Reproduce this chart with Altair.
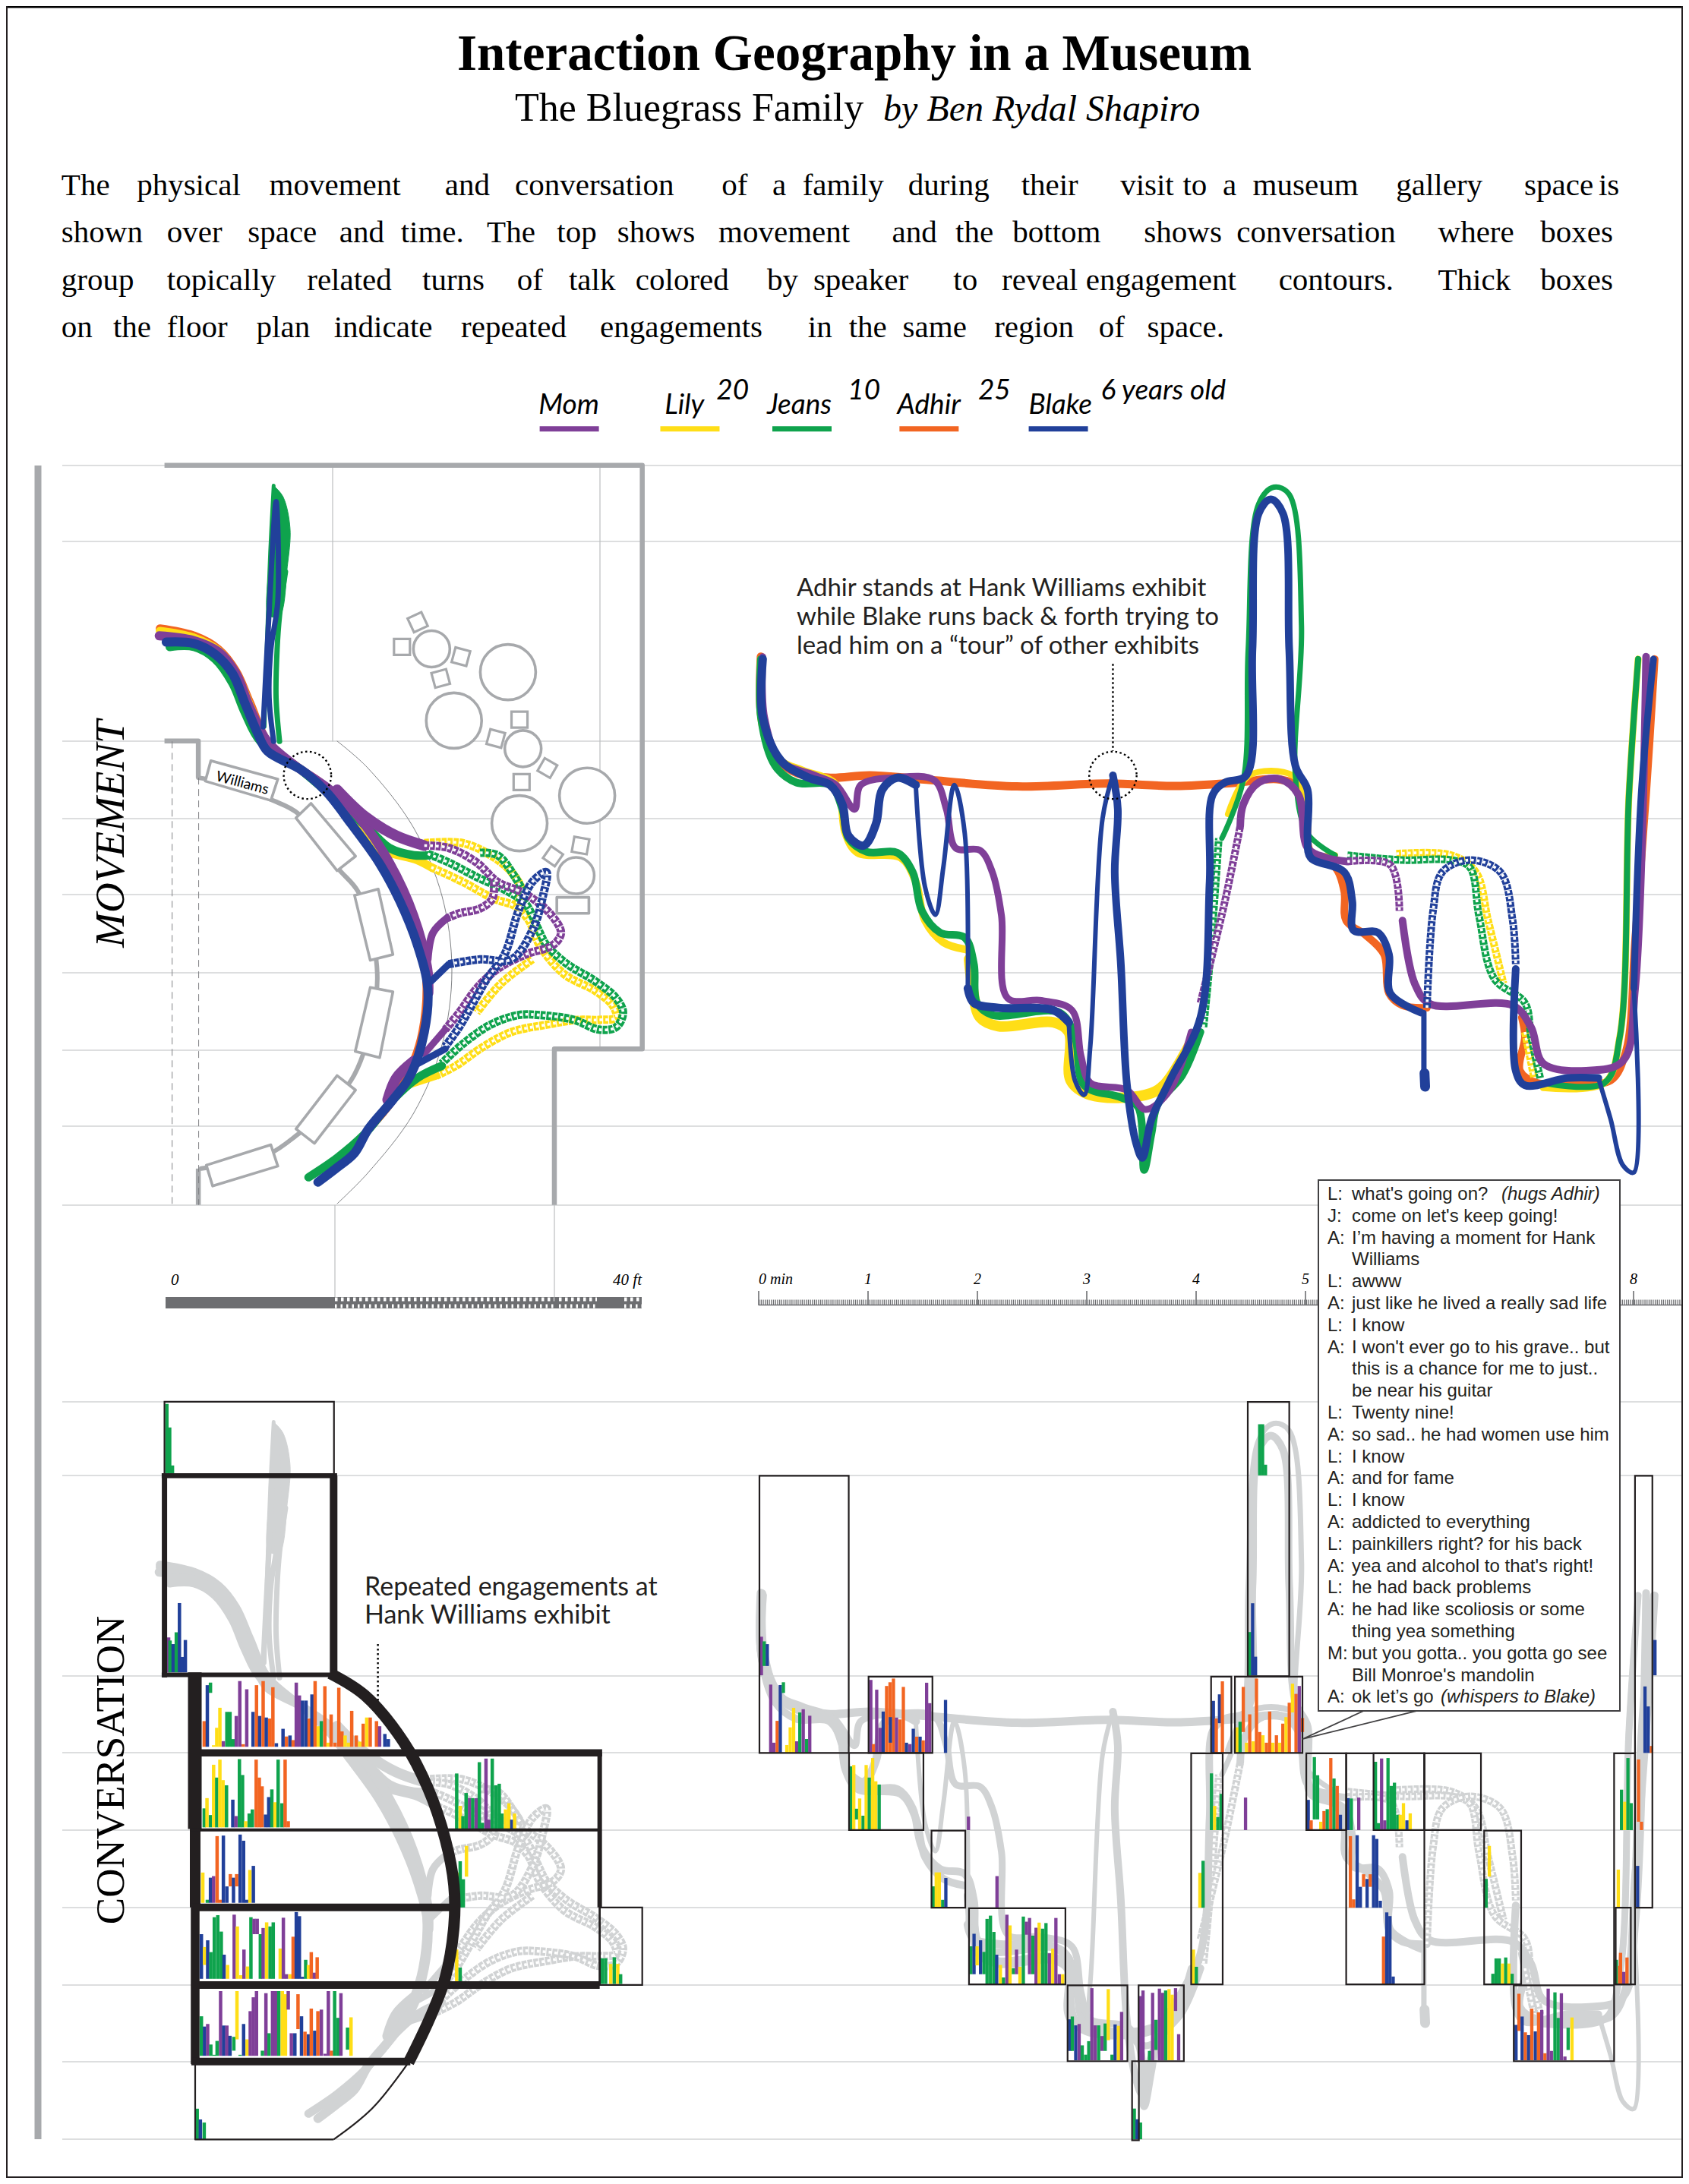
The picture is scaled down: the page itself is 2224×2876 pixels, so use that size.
import altair as alt
import pandas as pd

W, H = 2208, 2860
SX = alt.Scale(domain=[8, 2216], range=[0, W], nice=False, zero=False)
SY = alt.Scale(domain=[8, 2868], range=[0, H], nice=False, zero=False)
X = alt.X('x:Q', scale=SX, axis=None)
Y = alt.Y('y:Q', scale=SY, axis=None)

COL = {'P': '#7f3f98', 'Y': '#ffde17', 'G': '#0fa34d', 'O': '#f26522', 'B': '#21409a'}
GREY = '#d1d3d4'; WALL = '#a7a9ac'; GRID = '#bcbec0'; INK = '#231f20'

# crop coordinate systems the values were read in
def z1(p): return (1.4184 * p[0], .3954 * p[1])
def z2(p): return (150 + .4592 * p[0], 600 + .6378 * p[1])
def z3(p): return (960 + .8061 * p[0], 600 + .6378 * p[1])
def z4(p): return (150 + .4592 * p[0], 1800 + .676 * p[1])
def z5(p): return (960 + .4082 * p[0], 1900 + .6122 * p[1])
def z6(p): return (1560 + .4235 * p[0], 1900 + .6122 * p[1])
def z7(p): return (1700 + .3342 * p[0], 1540 + .4719 * p[1])

layers = []

def line(pts, color, width, dash=None, interp='linear', fill=None, cap='round', dy=0):
    df = pd.DataFrame([{'x': a, 'y': b + dy, 'i': i} for i, (a, b) in enumerate(pts)])
    kw = dict(color=color, strokeWidth=width, interpolate=interp, strokeCap=cap, strokeJoin='round')
    if dash: kw['strokeDash'] = dash
    if fill: kw['fill'] = fill
    layers.append(alt.Chart(df).mark_line(**kw).encode(x=X, y=Y, order=alt.Order('i:Q')))

def text(x, y, s, size, font='Liberation Serif', style='normal', weight='normal', align='left', angle=0, color='#000000'):
    df = pd.DataFrame([{'x': x, 'y': y, 't': s}])
    kw = dict(font=font, fontSize=size, fontStyle=style, fontWeight=weight, align=align,
              baseline='alphabetic', color=color)
    if angle: kw['angle'] = angle
    layers.append(alt.Chart(df).mark_text(**kw).encode(x=X, y=Y, text='t:N'))

# ---------- text content ----------
TITLE = 'Interaction Geography in a Museum'
SUB_A = 'The Bluegrass Family'
SUB_B = 'by Ben Rydal Shapiro'
BODY = [
 (650, [('The',57),('physical',127),('movement',250),('and',413),('conversation',478),('of',670),('a',717),('family',745),('during',843),('their',948),('visit',1040),('to',1098),('a',1135),('museum',1163),('gallery',1296),('space',1415),('is',1484)]),
 (808, [('shown',57),('over',155),('space',230),('and',315),('time.',372),('The',452),('top',517),('shows',573),('movement',667),('and',828),('the',887),('bottom',940),('shows',1062),('conversation',1148),('where',1335),('boxes',1430)]),
 (965, [('group',57),('topically',155),('related',285),('turns',392),('of',480),('talk',528),('colored',590),('by',712),('speaker',755),('to',885),('reveal',930),('engagement',1008),('contours.',1187),('Thick',1335),('boxes',1430)]),
 (1123,[('on',57),('the',105),('floor',155),('plan',238),('indicate',310),('repeated',428),('engagements',557),('in',750),('the',788),('same',838),('region',923),('of',1020),('space.',1065)]),
]
LEGEND = [('Mom',500,'P',501),('Lily',617,'Y',613),('Jeans',712,'G',717),('Adhir',833,'O',835),('Blake',955,'B',955)]
SUPER = [('20',665),('10',787),('25',908),('6 years old',1022)]
DIALOG = [
 ('L:', "what's going on?"), ('J:', "come on let's keep going!"), ('A:', 'I’m having a moment for Hank'),
 ('', 'Williams'), ('L:', 'awww'), ('A:', 'just like he lived a really sad life'), ('L:', 'I know'),
 ('A:', "I won't ever go to his grave.. but"), ('', 'this is a chance for me to just..'), ('', 'be near his guitar'),
 ('L:', 'Twenty nine!'), ('A:', 'so sad.. he had women use him'), ('L:', 'I know'), ('A:', 'and for fame'),
 ('L:', 'I know'), ('A:', 'addicted to everything'), ('L:', 'painkillers right? for his back'),
 ('A:', "yea and alcohol to that's right!"), ('L:', 'he had back problems'), ('A:', 'he had like scoliosis or some'),
 ('', 'thing yea something'), ('M:', 'but you gotta.. you gotta go see'), ('', "Bill Monroe's mandolin"), ('A:', 'ok let’s go'),
]

# ---------- grid ----------
GRID_Y = [613, 713, 976, 1078, 1178, 1281, 1383, 1483, 1587, 1846, 1943, 2207, 2308, 2410, 2512, 2614, 2715, 2817]
for gy in GRID_Y:
    line([(82, gy), (2216, gy)], GRID, 1.2, cap='butt')
line([(50, 613), (50, 2817)], WALL, 9, cap='butt')
line([(438, 613), (438, 976)], GRID, 1.2)
line([(790, 613), (790, 1383)], GRID, 1.2)
line([(441, 1587), (441, 1708)], GRID, 1.2)
line([(730, 1587), (730, 1708)], GRID, 1.2)

# ---------- floor plan ----------
ARC_PX = [(444,976),(484,1011),(544,1089),(582,1180),(595,1278),(582,1376),(544,1467),(484,1545),(444,1585)]
line(ARC_PX, '#808285', 1, interp='catmull-rom')
CURVE = [(242,665),(350,680),(450,710),(530,740),(640,850),(700,900),(740,990),(755,1067),(750,1130),(715,1235),(680,1290),(600,1360),(530,1400),(450,1440),(350,1460),(250,1472)]
line([z2(p) for p in CURVE], WALL, 6, interp='catmull-rom')
WALLS = [
 [(145,20),(1515,20),(1515,1225),(1263,1225),(1263,1547)],
 [(145,589),(242,589),(242,665)],
 [(242,1472),(242,1547)],
]
for w in WALLS:
    line([z2(p) for p in w], WALL, 6.5, cap='butt')
for dx in (167, 243):
    line([z2((dx, 590 if dx == 167 else 665)), z2((dx, 1547))], '#808285', 1, dash=[9, 6], cap='butt')
EXHIBITS = [
 [(278,630),(470,668),(450,712),(262,672)],
 [(565,718),(693,827),(640,857),(522,748)],
 [(690,908),(758,895),(800,1030),(735,1042)],
 [(735,1098),(800,1107),(762,1243),(692,1230)],
 [(640,1280),(693,1310),(575,1420),(522,1390)],
 [(265,1465),(450,1423),(470,1467),(283,1508)],
 [(1270,912),(1362,912),(1362,945),(1270,945)],
]
for e in EXHIBITS:
    line([z2(p) for p in e + [e[0]]], WALL, 3.6, fill='#ffffff')
a, b = z2((365, 685))
text(a, b, 'Williams', 19, font='Lato', align='center', angle=15)

TABLES = [(911,399,48),(1130,447,73),(975,547,73),(1173,605,48),(1357,702,73),(1163,759,73),(1325,867,48)]
STOOLS = [(871,344,-25,20),(826,395,0,21),(995,415,15,20),(937,460,-15,20),(1163,545,0,21),(1095,584,15,20),(1243,645,30,19),(1169,674,0,21),(1338,805,10,20),(1259,827,35,19)]
df = pd.DataFrame([{'x': z2((p[0], p[1]))[0], 'y': z2((p[0], p[1]))[1], 's': p[2] ** 2} for p in TABLES])
layers.append(alt.Chart(df).mark_point(shape='circle', fill='#ffffff', fillOpacity=1, stroke=WALL, strokeWidth=3.6, opacity=1).encode(x=X, y=Y, size=alt.Size('s:Q', scale=None)))
df = pd.DataFrame([{'x': z2((p[0], p[1]))[0], 'y': z2((p[0], p[1]))[1], 'a': (p[2] + 360) % 360, 's': p[3] ** 2} for p in STOOLS])
layers.append(alt.Chart(df).mark_point(shape='square', fill='#ffffff', fillOpacity=1, stroke=WALL, strokeWidth=3.2, opacity=1).encode(x=X, y=Y, size=alt.Size('s:Q', scale=None), angle=alt.Angle('a:Q', scale=None)))

# ---------- movement paths: (speaker, width, solid/rings, points) ----------
FLOOR = [
 ('O', 11, 's', [(132,357),(230,372),(300,400),(350,445),(390,510),(440,590),(520,640),(600,680),(680,745),(770,830),(840,930),(885,1020),(897,1100),(885,1190),(860,1250),(800,1330),(730,1390)]),
 ('Y', 11, 's', [(132,362),(230,376),(300,403),(350,450),(395,525),(440,600),(540,650),(640,715),(760,810),(870,835),(910,850)]),
 ('Y', 8, 'r', [(910,850),(1000,880),(1090,915),(1150,930),(1190,960),(1220,1010),(1290,1070),(1380,1105),(1430,1135),(1440,1160),(1390,1165),(1330,1165),(1240,1175),(1140,1190),(1060,1220),(980,1260),(925,1280)]),
 ('Y', 8, 'r', [(890,800),(1000,800),(1080,825),(1140,860),(1170,900),(1150,930)]),
 ('Y', 8, 'r', [(1200,1040),(1110,1090),(1040,1150)]),
 ('Y', 10, 's', [(925,1280),(840,1300)]),
 ('G', 11, 's', [(160,395),(230,395),(290,420),(340,470),(375,530),(420,590),(520,640),(620,700),(730,770),(790,810),(860,825),(905,825)]),
 ('G', 5, 's', [(458,62),(448,200),(438,400),(432,560)]),
 ('G', 7, 's', [(492,240),(475,330),(468,400),(465,500),(475,590)]),
 ('G', 8, 'r', [(900,822),(960,840),(1040,870),(1130,900),(1180,925),(1215,975),(1240,1010),(1300,1050),(1380,1085),(1440,1120),(1460,1150),(1440,1180),(1390,1185),(1320,1165),(1220,1155),(1160,1155),(1080,1175),(1000,1215),(940,1255)]),
 ('G', 8, 'r', [(1050,820),(1100,825),(1150,870),(1180,910)]),
 ('G', 11, 's', [(940,1260),(870,1285),(800,1330),(720,1400),(640,1450),(558,1490)]),
 ('P', 12, 's', [(130,372),(230,382),(300,405),(350,450),(390,520),(440,590),(520,640),(620,690),(700,745),(790,840),(860,950),(900,1060),(903,1110)]),
 ('P', 14, 's', [(640,690),(720,745),(810,785),(890,805)]),
 ('P', 8, 'r', [(890,805),(960,810),(1040,840),(1100,880),(1180,905),(1250,945),(1282,985),(1260,1010),(1180,1030),(1100,1060),(1040,1100),(990,1150),(950,1185)]),
 ('P', 8, 'r', [(1090,880),(1085,915),(1050,935),(990,945),(955,955)]),
 ('P', 10, 's', [(955,955),(915,985),(900,1040)]),
 ('P', 9, 's', [(950,1185),(890,1235)]),
 ('P', 14, 's', [(860,1250),(810,1285),(785,1330)]),
 ('B', 8, 'r', [(960,1050),(1050,1040),(1140,1040),(1200,980),(1230,910),(1240,860),(1200,880),(1160,940),(1120,1030),(1070,1080),(1030,1130),(990,1180),(950,1220)]),
 ('B', 9, 's', [(910,1085),(960,1050)]),
 ('B', 9, 's', [(950,1225),(860,1260)]),
 ('B', 7, 's', [(428,560),(440,390),(465,95),(470,300),(450,400),(445,500),(458,590)]),
 ('B', 12, 's', [(150,385),(230,388),(290,410),(340,450),(375,510),(410,570),(440,610),(540,650),(610,695),(680,760),(760,840),(820,920),(870,1010),(900,1100),(890,1190),(850,1280),(800,1330),(730,1390),(690,1440),(640,1470),(585,1500)]),
]
GREEN_SPUR = [(458,62),(485,85),(505,150),(497,230),(475,330),(445,330),(448,200)]

TIME = [
 ('O', 11, 's', [(52,415),(53,540),(75,620),(110,655),(165,665),(230,660),(330,670),(470,683),(620,677),(730,682),(830,675),(895,668),(930,680)]),
 ('O', 10, 's', [(945,760),(950,820),(990,850),(1005,900),(1008,960),(1040,990),(1070,1030),(1078,1110),(1100,1135),(1140,1140)]),
 ('O', 10, 's', [(1295,1160),(1300,1200),(1292,1270),(1320,1295),(1380,1295),(1440,1290),(1465,1230),(1480,1000),(1498,700),(1512,420)]),
 ('Y', 10, 's', [(52,420),(55,560),(85,630),(120,650),(175,680),(190,780),(210,820),(280,830),(305,880),(320,960),(350,1005),(388,1020)]),
 ('Y', 14, 's', [(392,1040),(398,1100),(410,1160),(440,1178),(530,1170),(555,1190),(558,1290),(590,1320),(680,1320),(710,1300),(755,1210)]),
 ('Y', 8, 's', [(815,740),(850,660),(920,660),(945,720),(950,820),(990,825)]),
 ('Y', 7, 'r', [(1090,822),(1180,825),(1220,860),(1240,960),(1265,1090)]),
 ('Y', 7, 'r', [(1300,1190),(1315,1285)]),
 ('Y', 9, 's', [(1330,1305),(1430,1295),(1455,1200),(1470,700),(1485,420)]),
 ('G', 10, 's', [(52,420),(52,540),(75,640),(110,675),(165,680),(185,730),(195,790),(225,818),(275,820),(300,860),(315,940),(345,985),(385,995),(400,1050),(405,1130),(430,1155),(540,1150),(565,1200),(580,1300),(640,1325),(668,1345),(678,1475),(690,1400),(700,1340),(740,1280),(770,1190)]),
 ('G', 7, 'r', [(775,1180),(785,1050),(800,790)]),
 ('G', 7, 's', [(805,790),(840,670),(848,400),(865,100),(890,65),(915,80),(935,350),(925,660),(945,780),(990,825)]),
 ('G', 7, 'r', [(1010,825),(1100,835),(1180,835),(1210,850),(1225,950),(1250,1080),(1300,1130),(1310,1200),(1325,1285)]),
 ('G', 8, 's', [(1330,1295),(1430,1295),(1455,1200),(1470,700),(1485,420)]),
 ('P', 9, 's', [(55,415),(58,540),(85,630),(140,660),(175,680),(205,730),(215,680),(270,665),(335,670),(355,730),(370,810),(410,815),(430,860),(445,950),(455,1120),(510,1125),(560,1145),(575,1240),(590,1295),(650,1310),(680,1350),(720,1310),(755,1190)]),
 ('P', 7, 'r', [(770,1130),(810,920),(835,765)]),
 ('P', 10, 's', [(835,765),(840,720),(865,675),(900,668),(930,700),(945,810),(975,830),(1010,838)]),
 ('P', 7, 'r', [(1010,838),(1080,845),(1095,940)]),
 ('P', 10, 's', [(1100,960),(1120,1090),(1145,1132),(1280,1135),(1310,1180),(1330,1255),(1400,1270),(1460,1250),(1480,1100),(1498,415)]),
 ('B', 7, 'r', [(1140,1140),(1150,940),(1165,860),(1210,835),(1260,860),(1280,960),(1285,1050)]),
 ('B', 11, 's', [(55,420),(55,540),(85,630),(130,665),(165,680),(185,720),(195,785),(220,805),(240,760),(250,690),(275,665),(305,680)]),
 ('B', 6, 's', [(305,680),(320,890),(337,948),(350,850),(368,680),(385,780),(390,1100)]),
 ('B', 11, 's', [(390,1100),(400,1130),(440,1140),(530,1145),(555,1170)]),
 ('B', 6, 's', [(555,1170),(565,1290),(580,1320),(590,1220),(610,750),(627,660)]),
 ('B', 10, 's', [(627,660),(635,730),(630,860),(640,1050),(650,1300),(665,1420),(675,1450),(690,1370),(720,1290),(770,1160),(785,880),(790,700),(810,675),(845,660),(855,400),(865,120),(885,90),(905,120),(915,400),(925,640),(945,690),(945,790),(950,830),(1005,860),(1018,920),(1020,980),(1060,985),(1078,1030),(1080,1110),(1130,1150)]),
 ('B', 7, 's', [(1135,1150),(1135,1270)]),
 ('B', 13, 's', [(1136,1275),(1137,1303)]),
 ('B', 10, 's', [(1285,1060),(1285,1270),(1300,1300),(1370,1285),(1420,1285)]),
 ('B', 6, 's', [(1420,1285),(1440,1370),(1460,1465),(1478,1480),(1478,1100)]),
 ('B', 9, 's', [(1478,1100),(1490,700),(1510,420)]),
]

def draw_paths(shift, mono=None):
    line([z2(p) for p in GREEN_SPUR + [GREEN_SPUR[0]]], mono or COL['G'], 1, interp='catmull-rom', fill=mono or COL['G'], dy=shift)
    for group, conv in ((FLOOR, z2), (TIME, z3)):
        for sp, w, kind, pts in group:
            c = mono or COL[sp]
            P = [conv(p) for p in pts]
            if kind == 's':
                line(P, c, w, interp='catmull-rom', dy=shift)
            else:
                line(P, c, w + 3, dash=[6.5, 1.2], interp='catmull-rom', cap='butt', dy=shift)
                line(P, '#ffffff', 3.6, dash=[3.6, 4.1], interp='catmull-rom', cap='butt', dy=shift)

draw_paths(0)
draw_paths(1233, GREY)

# dotted circles + leaders
CIRC = [z2((555, 660)), z3((627, 660))]
df = pd.DataFrame([{'x': a, 'y': b} for a, b in CIRC])
layers.append(alt.Chart(df).mark_point(shape='circle', size=3900, stroke='#000000', strokeWidth=2.4, strokeDash=[2.5, 3.5], fillOpacity=0, opacity=1).encode(x=X, y=Y))
line([z3((627, 430)), z3((627, 610))], '#000000', 2.4, dash=[2.5, 3.5], cap='butt')
line([z4((757, 540)), z4((757, 655))], '#000000', 2.4, dash=[2.5, 3.5], cap='butt')

# ---------- scale bars ----------
df = pd.DataFrame([{'x': 218, 'x2': 845, 'y': 1708, 'y2': 1723}])
layers.append(alt.Chart(df).mark_rect(color='#6d6e71').encode(x=X, x2='x2:Q', y=Y, y2='y2:Q'))
for xa, xb in ((441, 730), (736, 786), (822, 845)):
    line([(xa, 1711), (xb, 1711)], '#ffffff', 5, dash=[3.5, 4.5], cap='butt')
    line([(xa, 1720), (xb, 1720)], '#ffffff', 5, dash=[2.5, 5], cap='butt')
text(225, 1692, '0', 21, style='italic')
text(845, 1692, '40 ft', 21, style='italic', align='right')
line([(999, 1715), (2216, 1715)], '#6d6e71', 7, dash=[1.3, 1.4], cap='butt')
line([(999, 1718.5), (2216, 1718.5)], '#6d6e71', 1.5, cap='butt')
MINUTES = [0, 1, 2, 3, 4, 5, 8]
for m in MINUTES:
    px = 999 + 144 * m
    line([(px, 1700), (px, 1719)], '#6d6e71', 1.6, cap='butt')
    text(px, 1691, f'{m} min' if m == 0 else str(m), 20, style='italic', align='left' if m == 0 else 'center')

# ---------- conversation bars: (x, speaker, top[, bottom]) ----------
BARS_Z4 = [
 (207, [(147,'G',72),(155,'G',118),(163,'G',192)]),
 (595, [(152,'P',527),(156,'G',533),(165,'B',540),(174,'G',517),(183,'B',460),(191,'B',565),(200,'B',532)]),
 (740, [(254,'O',690),(263,'B',620),(272,'G',615,635),(281,'Y',737),(290,'Y',703),(299,'Y',664),(309,'P',729),(319,'G',672),(328,'G',672),(337,'G',725),(346,'P',680),(356,'P',612),(366,'O',735),(376,'P',628),(394,'B',672),(404,'O',620),(413,'B',680),(423,'O',612),(432,'B',683),(442,'O',685),(451,'O',624),(461,'B',733),(480,'B',705),(490,'O',720),(500,'B',718),(509,'O',727),(518,'P',615),(527,'P',640),(536,'B',650),(546,'B',650),(555,'O',685),(563,'B',638),(572,'O',612),(581,'Y',700),(590,'G',690),(600,'O',622),(609,'Y',732),(618,'O',677),(629,'O',732),(640,'O',625),(649,'O',710),(658,'Y',718),(668,'Y',732),(677,'O',670),(690,'O',718),(700,'Y',730),(710,'O',695),(720,'Y',683),(730,'O',683),(748,'O',690),(757,'P',700),(772,'B',715),(782,'B',725)]),
 (897, [(254,'G',860),(262,'Y',840),(272,'G',873),(281,'Y',775),(290,'G',800),(299,'Y',765),(308,'Y',805),(318,'G',815),(336,'B',843),(345,'P',875),(355,'G',764),(364,'G',795),(373,'Y',885),(383,'G',870),(392,'G',862),(403,'O',765),(412,'O',800),(420,'O',817),(430,'B',872),(439,'B',838),(448,'G',823),(457,'Y',848),(466,'G',765),(477,'G',850),(486,'O',765),(495,'O',885)]),
 (1044,[(250,'Y',985),(263,'G',1038),(272,'B',995),(281,'P',992),(291,'O',914),(300,'O',1038),(309,'B',913),(319,'B',1012),(329,'O',988,1012),(338,'B',995),(347,'O',988,1012),(357,'B',911),(367,'B',923),(376,'B',1038),(385,'Y',980),(395,'B',972)]),
 (1053,[(983,'Y',985),(988,'G',963),(997,'G',998),(1006,'Y',933,993)]),
 (1192,[(246,'B',1105),(255,'Y',1130,1165),(264,'B',1117),(273,'G',1140),(283,'G',1072),(293,'G',1068),(303,'G',1100),(311,'B',1145),(321,'Y',1165),(340,'P',1067),(349,'Y',1090),(359,'Y',1185),(368,'P',1135),(378,'Y',1168),(388,'G',1072),(397,'P',1075,1105),(406,'P',1075,1105),(415,'G',1105),(423,'P',1093),(433,'Y',1082),(443,'G',1090),(452,'G',1082),(472,'Y',1133),(481,'P',1073),(490,'P',1183),(500,'Y',1183),(509,'O',1110),(518,'B',1062),(527,'B',1070),(536,'B',1188),(545,'G',1155),(553,'Y',1165),(561,'O',1140),(570,'P',1180),(578,'O',1150)]),
 (1342,[(246,'G',1265),(255,'B',1285),(264,'P',1280),(273,'G',1320),(282,'G',1340),(291,'G',1313),(301,'P',1216),(310,'B',1283),(319,'P',1283),(328,'B',1303),(339,'G',1305,1332),(348,'Y',1216,1310),(357,'G',1340),(367,'B',1280),(377,'Y',1310),(386,'P',1255),(395,'P',1228),(404,'P',1216),(421,'G',1332),(431,'P',1220),(440,'G',1298),(450,'P',1216),(459,'P',1216),(468,'G',1216),(478,'Y',1216),(487,'Y',1222),(495,'P',1216,1252),(504,'P',1298),(514,'B',1298),(523,'O',1222,1290),(533,'B',1265),(543,'O',1295),(553,'B',1300),(561,'O',1250),(571,'B',1293),(580,'O',1255),(590,'P',1252),(601,'P',1338),(610,'P',1216),(619,'O',1332),(628,'G',1216),(638,'G',1268),(646,'P',1220),(665,'G',1287,1330),(675,'Y',1267)]),
 (1505,[(234,'G',1445),(243,'B',1466),(254,'G',1472)]),
 (1198,[(978,'Y',1135),(988,'G',1170)]),
 (900, [(978,'G',792),(988,'Y',855),(996,'G',875),(1005,'G',830),(1015,'P',840),(1024,'G',840),(1034,'P',840),(1043,'G',770),(1052,'G',888),(1062,'P',763),(1070,'P',882),(1080,'G',763),(1090,'G',815),(1100,'G',812),(1108,'G',870),(1118,'Y',862),(1128,'Y',850),(1136,'B',882),(1144,'Y',870)]),
 (1202,[(1395,'G',1152),(1405,'G',1152),(1420,'Y',1163),(1430,'G',1150),(1440,'Y',1163),(1448,'G',1183)]),
]
BARS_Z5 = [
 (667, [(99,'P',417,500),(108,'G',427,480),(118,'B',433,480),(129,'P',520),(139,'P',645),(150,'O',598),(160,'B',521),(170,'G',515,538),(181,'Y',650),(192,'Y',612),(203,'Y',570),(213,'P',642),(223,'G',580),(234,'P',573),(245,'G',637),(255,'P',587)]),
 (833, [(387,'G',696),(397,'Y',693),(406,'G',787,810),(416,'Y',765),(427,'G',802),(437,'Y',693),(447,'G',720),(458,'Y',678),(468,'Y',728),(479,'G',735)]),
 (667, [(452,'P',510),(461,'O',648),(471,'P',531),(482,'P',613),(492,'B',578),(503,'O',523),(514,'O',515),(525,'O',507),(515,'B',590,645),(535,'P',591),(546,'O',595),(557,'O',525),(567,'B',645),(578,'P',648),(589,'B',615),(600,'O',632),(611,'B',632),(621,'O',640),(632,'P',516),(642,'P',560),(693,'B',553)]),
 (1000,[(654,'G',954),(663,'Y',924),(673,'Y',924),(684,'G',983),(694,'B',936),(767,'P',804,833),(859,'P',932)]),
 (1165,[(775,'G',1083,1143),(785,'B',1056,1143),(795,'Y',1083,1124),(806,'B',1070,1143),(817,'G',1095,1143),(827,'G',1024),(838,'G',1017),(849,'G',1052),(858,'B',1101),(870,'Y',1123),(880,'G',1150),(891,'P',1015),(901,'Y',1038),(912,'G',1130,1143),(922,'P',1090,1143),(933,'Y',1127),(944,'G',1019),(954,'P',1030,1058),(964,'P',1022,1143),(975,'G',1060,1143),(985,'P',1043),(995,'Y',1032),(1006,'G',1045),(1017,'G',1033),(1028,'P',1098),(1039,'Y',1088),(1049,'P',1022),(1060,'P',1143),(1071,'Y',1143)]),
 (1328,[(1094,'B',1240,1308),(1102,'G',1234,1308),(1113,'B',1253),(1124,'P',1250),(1134,'G',1296),(1145,'G',1316),(1155,'G',1287),(1165,'P',1173),(1176,'P',1253),(1187,'G',1253),(1198,'P',1276,1308),(1208,'G',1249,1308),(1218,'Y',1175,1285),(1230,'G',1316),(1240,'B',1251),(1251,'Y',1254),(1261,'P',1224)]),
 (1328,[(1322,'P',1190),(1330,'P',1178),(1351,'G',1308),(1361,'P',1183),(1372,'G',1241,1306),(1383,'P',1174),(1393,'P',1183),(1403,'G',1178),(1414,'Y',1175),(1424,'Y',1187),(1435,'P',1173,1222),(1445,'P',1272)]),
 (1498,[(1302,'G',1432),(1311,'B',1455),(1322,'G',1462)]),
]
BARS_Z6 = [
 (1165,[(22,'Y',1090),(31,'G',1127),(1337,'G',1112),(1347,'O',1125),(1350,'O',1097),(1360,'P',1138),(1370,'O',1107),(953,'G',1142),(963,'G',1109),(973,'G',1109),(983,'Y',1120),(993,'G',1107),(1003,'Y',1120),(1013,'G',1142),(613,'O',1062),(623,'B',1010),(633,'B',1018),(643,'B',1148)]),
 (1000,[(42,'Y',925),(52,'G',899),(510,'O',846),(520,'O',982),(531,'B',844),(541,'B',955),(551,'O',928,955),(562,'B',938),(572,'O',928,955),(582,'B',844),(592,'B',852),(603,'B',985),(932,'G',938),(942,'Y',867,933),(1343,'Y',918),(1403,'B',910)]),
 (833, [(78,'G',711),(88,'Y',781),(98,'G',805),(108,'G',755),(184,'P',763),(379,'B',768),(388,'O',812),(398,'G',676,810),(408,'G',715,810),(418,'Y',815),(428,'O',792),(438,'G',788),(449,'O',678),(459,'G',722),(469,'O',738),(479,'B',800),(503,'B',764),(513,'G',765),(536,'P',763),(588,'G',686),(597,'G',818),(607,'P',679),(617,'P',812),(627,'G',678),(637,'G',738),(647,'G',731),(657,'G',800),(665,'Y',800),(675,'Y',775),(686,'B',812),(696,'Y',797),(1353,'G',746),(1363,'Y',772),(1373,'G',678),(1383,'G',775),(1406,'O',681,815),(1415,'O',815)]),
 (500, [(197,'G',407),(206,'B',345),(215,'B',460),(1457,'B',424)]),
 (70,  [(228,'G',-40),(237,'G',-40),(246,'G',47)]),
 (667, [(84,'B',555),(93,'O',593),(103,'B',541,603),(112,'O',513),(158,'Y',612),(167,'G',600),(177,'O',525,622),(187,'Y',645),(197,'O',584),(208,'Y',642),(218,'O',507),(228,'O',622),(238,'Y',629),(249,'O',645),(259,'O',578),(269,'Y',645),(280,'O',629),(290,'Y',645),(300,'O',604),(310,'Y',590),(320,'O',559),(330,'Y',518,580),(341,'O',540),(351,'P',523),(361,'O',592,622),(1426,'B',524),(1436,'B',567),(1446,'O',652)]),
 (1328,[(1025,'B',1252),(1034,'O',1185,1265),(1044,'B',1234),(1054,'O',1268),(1064,'B',1274),(1074,'O',1217),(1085,'B',1266),(1095,'O',1225),(1105,'P',1220),(1115,'O',1313),(1125,'P',1174),(1135,'P',1308),(1146,'G',1182),(1156,'G',1237),(1166,'P',1184),(1177,'P',1320),(1187,'G',1258,1306),(1199,'Y',1236)]),
]
rows = []
for groups, conv, bw in ((BARS_Z4, z4, 4.5), (BARS_Z5, z5, 4.3), (BARS_Z6, z6, 4.3)):
    for base, bars in groups:
        for b in bars:
            x0, y0 = conv((b[0], b[2]))
            _, y1 = conv((b[0], b[3] if len(b) > 3 else base))
            rows.append({'x': x0, 'x2': x0 + bw, 'y': y0, 'y2': y1, 'c': COL[b[1]]})
layers.append(alt.Chart(pd.DataFrame(rows)).mark_rect().encode(x=X, x2='x2:Q', y=Y, y2='y2:Q', color=alt.Color('c:N', scale=None)))

# ---------- conversation boxes ----------
BOX_Z5 = [(98,71,386,667),(387,667,627,833),(450,503,656,667),(653,834,762,1000),(774,1001,1085,1165),(1092,1167,1285,1330),(1321,1167,1467,1330),(1300,1330,1322,1500)]
BOX_Z6 = [(20,668,118,1165),(196,-88,325,502),(82,503,145,667),(156,503,366,667),(378,668,502,833),(502,668,745,1165),(587,668,745,833),(745,668,921,833),(931,834,1046,1165),(1023,1167,1335,1330),(1335,668,1400,1165),(1340,1000,1387,1165),(1400,71,1454,1000)]
BOX_Z4 = [(145,68,631,212),(1393,1053,1515,1204)]
rows = []
for boxes, conv in ((BOX_Z4, z4), (BOX_Z5, z5), (BOX_Z6, z6)):
    for b in boxes:
        p, q = conv((b[0], b[1])), conv((b[2], b[3]))
        rows.append({'x': p[0], 'y': p[1], 'x2': q[0], 'y2': q[1]})
layers.append(alt.Chart(pd.DataFrame(rows)).mark_rect(fillOpacity=0, stroke=INK, strokeWidth=2.2).encode(x=X, x2='x2:Q', y=Y, y2='y2:Q'))

# thick floor-plan boxes: (points, width)
THICK = [
 ([(137,212),(640,212)], 6.5), ([(145,212),(145,605)], 7), ([(630,212),(630,600)], 10), ([(137,600),(640,600)], 6),
 ([(232,595),(232,900)], 18), ([(233,900),(233,1053)], 14), ([(233,1053),(233,1358)], 11.5),
 ([(250,752),(1400,752)], 9.5), ([(218,902),(1390,902)], 4), ([(222,1053),(985,1053)], 10), ([(222,1204),(1393,1204)], 10), ([(222,1353),(850,1353)], 10),
 ([(1393,752),(1393,1053)], 6), ([(1393,1053),(1393,1204)], 2.5),
 ([(233,1355),(233,1505),(630,1505)], 2.2),
]
for pts, w in THICK:
    line([z4(p) for p in pts], INK, w, cap='butt')
line([z4(p) for p in [(620,597),(720,640),(830,730),(900,820),(950,920),(975,1010),(975,1090),(950,1190),(905,1270),(845,1355)]], INK, 15, interp='catmull-rom', cap='butt')
line([z4(p) for p in [(630,1505),(740,1445),(845,1355)]], INK, 2.2, interp='catmull-rom', cap='butt')

# ---------- dialog ----------
CALLOUT = [(555,577),(367,637),(720,577)]
line([z6(p) for p in CALLOUT], '#414042', 1.8, fill='#ffffff')
df = pd.DataFrame([{'x': 1736, 'x2': 2133, 'y': 1554, 'y2': 2253}])
layers.append(alt.Chart(df).mark_rect(fill='#ffffff', stroke='#414042', strokeWidth=2).encode(x=X, x2='x2:Q', y=Y, y2='y2:Q'))
DFONT = 'Liberation Sans'; DS = 24
for i, (who, s) in enumerate(DIALOG):
    yy = 1580 + 28.8 * i
    if who: text(1748, yy, who, DS, font=DFONT, color=INK)
    text(1780, yy, s, DS, font=DFONT, color=INK)
text(1977, 1580, '(hugs Adhir)', DS, font=DFONT, style='italic', color=INK)
text(1897, 1580 + 28.8 * 23, '(whispers to Blake)', DS, font=DFONT, style='italic', color=INK)

# ---------- annotations ----------
ANNOT = ['Adhir stands at Hank Williams exhibit', 'while Blake runs back & forth trying to', 'lead him on a “tour” of other exhibits']
for i, s in enumerate(ANNOT):
    text(1049, 785 + 38.2 * i, s, 33, font='Lato', color=INK)
text(480, 2101, 'Repeated engagements at', 34, font='Lato', color=INK)
text(480, 2138, 'Hank Williams exhibit', 34, font='Lato', color=INK)
text(163, 1098, 'MOVEMENT', 55, angle=270, align='center', style='italic')
text(163, 2331, 'CONVERSATION', 53, angle=270, align='center')

# ---------- header ----------
text(1125, 92, TITLE, 67, weight='bold', align='center')
text(678, 159, SUB_A, 52)
text(1163, 159, SUB_B, 48, style='italic')
for zy, words in BODY:
    for w, zx in words:
        a, b = z1((zx, zy))
        text(a, b, w, 41)
for name, zx, sp, sx in LEGEND:
    a, b = z1((zx, 1378))
    text(a, b, name, 37, font='Lato', style='italic')
    p, q = z1((sx, 1428))
    line([(p, q), (p + 78, q)], COL[sp], 7, cap='butt')
for s, zx in SUPER:
    a, b = z1((zx, 1330))
    text(a, b, s, 37, font='Lato', style='italic')

# ---------- frame ----------
line([(8, 9), (2216, 9)], '#000000', 3, cap='butt')
line([(2215, 8), (2215, 2868)], '#231f20', 2, cap='butt')
line([(8, 2867), (2216, 2867)], '#231f20', 2, cap='butt')
line([(9, 8), (9, 2868)], '#231f20', 2, cap='butt')

chart = alt.layer(*layers).properties(
    width=W, height=H, padding=0, autosize=alt.AutoSizeParams(type='none'), background='#ffffff'
).configure_view(strokeWidth=0)

chart.save("out.html", embed_options={"renderer": "svg", "actions": False})
